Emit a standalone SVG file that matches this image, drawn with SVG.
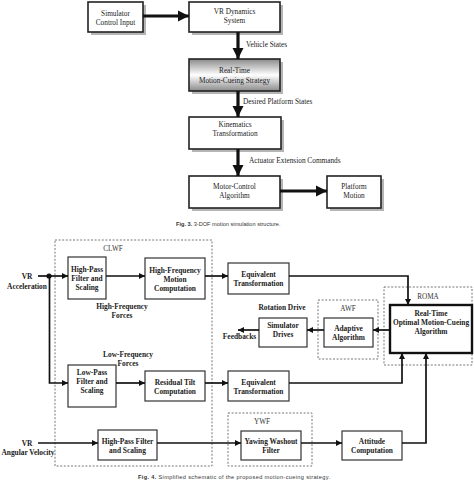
<svg xmlns="http://www.w3.org/2000/svg" width="474" height="481" viewBox="0 0 474 481">
<defs>
<marker id="bigArrow" markerUnits="userSpaceOnUse" markerWidth="12" markerHeight="12" refX="11" refY="6" orient="auto">
<path d="M0,0.5 L11,6 L0,11.5 Z" fill="#111"/>
</marker>
<marker id="arr" markerUnits="userSpaceOnUse" markerWidth="7" markerHeight="7" refX="6" refY="3.5" orient="auto">
<path d="M0,0.5 L6,3.5 L0,6.5 Z" fill="#111"/>
</marker>
<linearGradient id="grad" x1="0" y1="0" x2="0" y2="1">
<stop offset="0" stop-color="#8a8a8a"/>
<stop offset="0.5" stop-color="#ffffff"/>
<stop offset="1" stop-color="#8a8a8a"/>
</linearGradient>
<style>
.b3{fill:#fff;stroke:#222;stroke-width:1.6}
.sh{fill:#b5b5b5}
.t3{font-family:"Liberation Serif",serif;font-size:7.3px;fill:#222;text-anchor:middle}
.l3{font-family:"Liberation Serif",serif;font-size:7.3px;fill:#222}
.c3{stroke:#111;stroke-width:3.2;fill:none;marker-end:url(#bigArrow)}
.b4{fill:#fff;stroke:#333;stroke-width:1.2}
.t4{font-family:"Liberation Serif",serif;font-size:7.4px;font-weight:bold;fill:#222;text-anchor:middle}
.g4{font-family:"Liberation Serif",serif;font-size:7.2px;fill:#333;text-anchor:middle}
.c4{stroke:#111;stroke-width:1.7;fill:none;marker-end:url(#arr)}
.dash{fill:none;stroke:#777;stroke-width:1;stroke-dasharray:2,1.6}
.cap{font-family:"Liberation Sans",sans-serif;font-size:5.6px;fill:#333}
</style>
</defs>
<rect width="474" height="481" fill="#fff"/>

<!-- Fig 3 -->
<g id="sim-control-input">
<rect class="sh" x="91" y="5" width="55" height="30"/>
<rect class="b3" x="88" y="2" width="55" height="30"/>
<text class="t3" x="115.5" y="15.5">Simulator</text>
<text class="t3" x="115.5" y="24.5">Control Input</text>
</g>
<g id="vr-dynamics">
<rect class="sh" x="192" y="5" width="91" height="30"/>
<rect class="b3" x="189" y="2" width="91" height="30"/>
<text class="t3" x="234.5" y="14">VR Dynamics</text>
<text class="t3" x="234.5" y="23">System</text>
</g>
<g id="rt-mcs">
<rect class="sh" x="192" y="62" width="91" height="32"/>
<rect x="189" y="59" width="91" height="32" fill="url(#grad)" stroke="#222" stroke-width="1.6"/>
<text class="t3" x="234.5" y="72.5">Real-Time</text>
<text class="t3" x="234.5" y="82.5">Motion-Cueing Strategy</text>
</g>
<g id="kinematics">
<rect class="sh" x="192" y="120" width="92" height="32"/>
<rect class="b3" x="189" y="117" width="92" height="32"/>
<text class="t3" x="235" y="127">Kinematics</text>
<text class="t3" x="235" y="136">Transformation</text>
</g>
<g id="motor-control">
<rect class="sh" x="192" y="179" width="91" height="32"/>
<rect class="b3" x="189" y="176" width="91" height="32"/>
<text class="t3" x="234.5" y="188.5">Motor-Control</text>
<text class="t3" x="234.5" y="197.5">Algorithm</text>
</g>
<g id="platform-motion">
<rect class="sh" x="330" y="179" width="54" height="32"/>
<rect class="b3" x="327" y="176" width="54" height="32"/>
<text class="t3" x="354" y="188.5">Platform</text>
<text class="t3" x="354" y="197.5">Motion</text>
</g>
<g id="fig3-connectors">
<line class="c3" x1="143" y1="16" x2="189" y2="16"/>
<line class="c3" x1="238" y1="32" x2="238" y2="59"/>
<line class="c3" x1="238" y1="91" x2="238" y2="117"/>
<line class="c3" x1="238" y1="149" x2="238" y2="176"/>
<line class="c3" x1="280" y1="191" x2="327" y2="191"/>
<text class="l3" x="246" y="46.5">Vehicle States</text>
<text class="l3" x="243" y="103.5">Desired Platform States</text>
<text class="l3" x="249" y="162.5">Actuator Extension Commands</text>
</g>
<text class="cap" x="176" y="225.5"><tspan font-weight="bold">Fig. 3.</tspan> 3-DOF motion simulation structure.</text>

<!-- Fig 4 dashed groups -->
<g id="clwf">
<rect class="dash" x="55" y="240" width="157" height="226"/>
<text class="g4" x="113" y="250.5">CLWF</text>
</g>
<g id="roma">
<rect class="dash" x="384" y="287" width="88" height="78"/>
<text class="g4" x="428" y="298.5">ROMA</text>
</g>
<g id="awf">
<rect class="dash" x="318" y="300" width="60" height="59"/>
<text class="g4" x="348" y="310.5">AWF</text>
</g>
<g id="ywf">
<rect class="dash" x="228" y="413" width="84" height="53"/>
<text class="g4" x="262" y="423.5">YWF</text>
</g>

<!-- Fig 4 nodes -->
<g id="hp-filter">
<rect class="b4" x="68" y="257" width="38" height="42"/>
<text class="t4" x="87" y="271.5">High-Pass</text>
<text class="t4" x="87" y="280.5">Filter and</text>
<text class="t4" x="87" y="289.5">Scaling</text>
</g>
<g id="hf-motion">
<rect class="b4" x="145" y="258" width="60" height="41"/>
<text class="t4" x="175" y="272.5">High-Frequency</text>
<text class="t4" x="175" y="281.5">Motion</text>
<text class="t4" x="175" y="290.5">Computation</text>
</g>
<g id="equiv1">
<rect class="b4" x="228" y="263" width="61" height="31"/>
<text class="t4" x="258.5" y="276.5">Equivalent</text>
<text class="t4" x="258.5" y="285.5">Transformation</text>
</g>
<g id="roma-alg">
<rect x="390" y="305" width="82" height="48" fill="#fff" stroke="#111" stroke-width="2.4"/>
<text class="t4" x="431" y="315.5">Real-Time</text>
<text class="t4" x="431" y="324.5">Optimal Motion-Cueing</text>
<text class="t4" x="431" y="334">Algorithm</text>
</g>
<g id="adaptive">
<rect class="b4" x="324" y="318" width="49" height="29"/>
<text class="t4" x="348.5" y="330.5">Adaptive</text>
<text class="t4" x="348.5" y="339.5">Algorithm</text>
</g>
<g id="sim-drives">
<rect class="b4" x="259" y="318" width="48" height="29"/>
<text class="t4" x="283" y="327.5">Simulator</text>
<text class="t4" x="283" y="336.5">Drives</text>
</g>
<g id="lp-filter">
<rect class="b4" x="68" y="365" width="48" height="42"/>
<text class="t4" x="92" y="374.5">Low-Pass</text>
<text class="t4" x="92" y="383.5">Filter and</text>
<text class="t4" x="92" y="392.5">Scaling</text>
</g>
<g id="residual-tilt">
<rect class="b4" x="145" y="371" width="60" height="30"/>
<text class="t4" x="175" y="384.5">Residual Tilt</text>
<text class="t4" x="175" y="393.5">Computation</text>
</g>
<g id="equiv2">
<rect class="b4" x="228" y="371" width="61" height="30"/>
<text class="t4" x="258.5" y="384.5">Equivalent</text>
<text class="t4" x="258.5" y="393.5">Transformation</text>
</g>
<g id="hp-filter2">
<rect class="b4" x="98" y="430" width="59" height="30"/>
<text class="t4" x="127.5" y="443.5">High-Pass Filter</text>
<text class="t4" x="127.5" y="452.5">and Scaling</text>
</g>
<g id="yawing">
<rect class="b4" x="241" y="431" width="60" height="29"/>
<text class="t4" x="271" y="443.5">Yawing Washout</text>
<text class="t4" x="271" y="452.5">Filter</text>
</g>
<g id="attitude">
<rect class="b4" x="342" y="431" width="60" height="29"/>
<text class="t4" x="372" y="443.5">Attitude</text>
<text class="t4" x="372" y="452.5">Computation</text>
</g>

<!-- Fig 4 labels -->
<g id="labels">
<text class="t4" x="27" y="278.5">VR</text>
<text class="t4" x="27" y="288.5">Acceleration</text>
<text class="t4" x="122" y="308.5">High-Frequency</text>
<text class="t4" x="122" y="317.5">Forces</text>
<text class="t4" x="128" y="356.5">Low-Frequency</text>
<text class="t4" x="128" y="365.5">Forces</text>
<text class="t4" x="282" y="309.5">Rotation Drive</text>
<text class="t4" x="239.5" y="339">Feedbacks</text>
<text class="t4" x="27" y="445.5">VR</text>
<text class="t4" x="28" y="454.5">Angular Velocity</text>
</g>

<!-- Fig 4 connectors -->
<g id="fig4-connectors">
<line class="c4" x1="38" y1="276" x2="68" y2="276"/>
<circle cx="49" cy="276" r="2.6" fill="#111"/>
<polyline class="c4" points="49.5,276 49.5,383 68,383"/>
<line class="c4" x1="106" y1="276" x2="145" y2="276"/>
<line class="c4" x1="205" y1="276" x2="228" y2="276"/>
<polyline class="c4" points="289,276 408,276 408,305"/>
<line class="c4" x1="390" y1="330" x2="373" y2="330"/>
<line class="c4" x1="324" y1="330" x2="307" y2="330"/>
<line class="c4" x1="259" y1="330" x2="238" y2="330"/>
<line class="c4" x1="116" y1="383" x2="145" y2="383"/>
<line class="c4" x1="205" y1="383" x2="228" y2="383"/>
<polyline class="c4" points="289,383 402,383 402,353"/>
<line class="c4" x1="38" y1="443" x2="98" y2="443"/>
<line class="c4" x1="157" y1="443" x2="241" y2="443"/>
<line class="c4" x1="301" y1="443" x2="342" y2="443"/>
<polyline class="c4" points="402,443 426,443 426,353"/>
</g>
<text class="cap" x="138" y="478.5" textLength="192"><tspan font-weight="bold">Fig. 4.</tspan> Simplified schematic of the proposed motion-cueing strategy.</text>
</svg>
